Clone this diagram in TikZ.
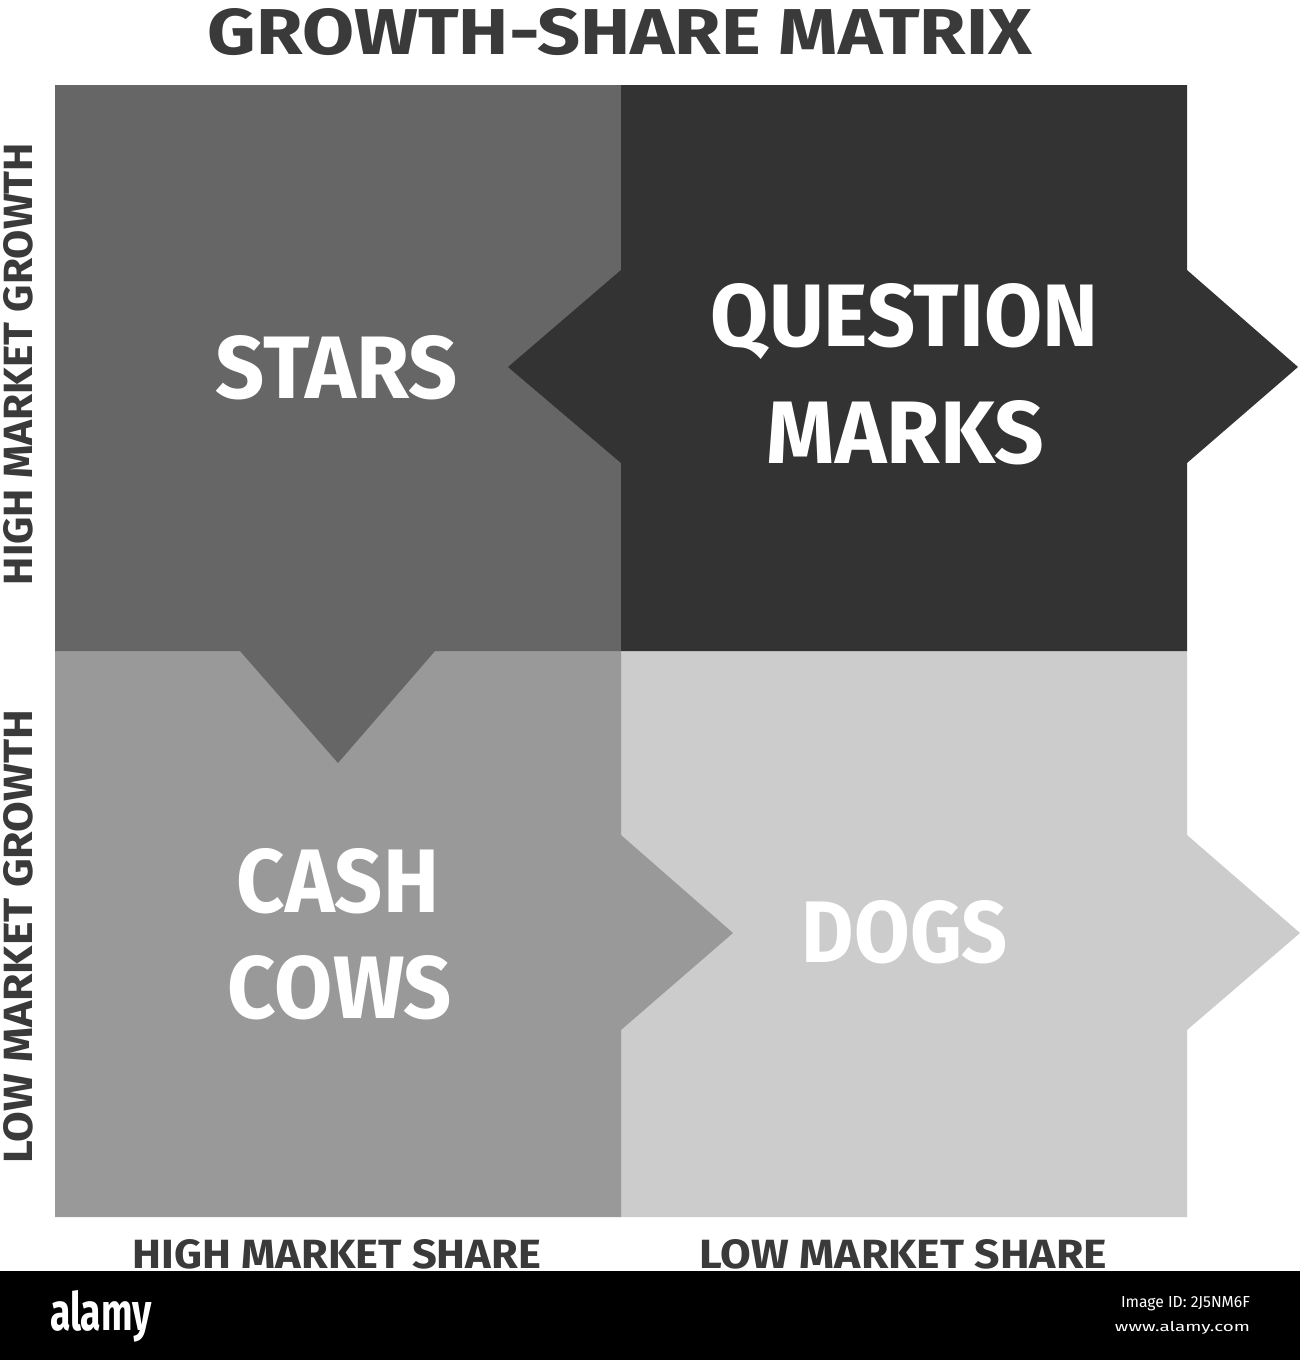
\documentclass[tikz,border=0pt]{standalone}
\usepackage{fontspec}
\setmainfont{Fira Sans}
\usepackage{graphicx}
\definecolor{titlegray}{HTML}{3A3A3A}
\definecolor{starsgray}{HTML}{666666}
\definecolor{qmgray}{HTML}{333333}
\definecolor{cowgray}{HTML}{999999}
\definecolor{doggray}{HTML}{CCCCCC}
\newcommand{\fitlabel}[3]{\resizebox{#1pt}{#2pt}{\bfseries #3}}
\begin{document}
\begin{tikzpicture}[x=1pt,y=-1pt,
  lbl/.style={inner sep=0pt, outer sep=0pt, anchor=base},
  darklbl/.style={lbl, text=titlegray},
  whitelbl/.style={lbl, text=white},
  quad/.style={draw=none}]
\useasboundingbox (0,0) rectangle (1300,1360);
\fill[color=white] (0,0) rectangle (1300,1360);
% quadrants
\fill[quad, doggray] (621,651) -- (1187,651) -- (1187,835) -- (1300,933) -- (1187,1030) -- (1187,1217) -- (621,1217) -- cycle;
\fill[quad, cowgray] (55,651) -- (621,651) -- (621,835) -- (733,933) -- (621,1030) -- (621,1217) -- (55,1217) -- cycle;
\fill[quad, starsgray] (55,85) -- (621,85) -- (621,651) -- (435,651) -- (338,763) -- (240,651) -- (55,651) -- cycle;
\fill[quad, qmgray] (621,85) -- (1187,85) -- (1187,270) -- (1298,367) -- (1187,463) -- (1187,651) -- (621,651) -- (621,463) -- (508,367) -- (621,270) -- cycle;
% title
\node[darklbl] (title) at (620,54) {\fitlabel{824}{46}{GROWTH-SHARE MATRIX}};
% quadrant labels
\node[whitelbl] (stars) at (337,398) {\fitlabel{242}{63}{STARS}};
\node[whitelbl] (question) at (904.5,346) {\fitlabel{387}{63}{QUESTION}};
\node[whitelbl] (marks) at (905.5,463) {\fitlabel{277}{63}{MARKS}};
\node[whitelbl] (cash) at (338,912) {\fitlabel{202}{64}{CASH}};
\node[whitelbl] (cows) at (340,1018) {\fitlabel{224}{63}{COWS}};
\node[whitelbl] (dogs) at (905,962) {\fitlabel{206}{62}{DOGS}};
% axis labels
\node[darklbl, rotate=90] (highgrowth) at (32,364) {\fitlabel{442}{29}{HIGH MARKET GROWTH}};
\node[darklbl, rotate=90] (lowgrowth) at (32,936.5) {\fitlabel{453}{29}{LOW MARKET GROWTH}};
\node[darklbl] (highshare) at (337,1268) {\fitlabel{408}{29}{HIGH MARKET SHARE}};
\node[darklbl] (lowshare) at (903.5,1268) {\fitlabel{407}{29}{LOW MARKET SHARE}};
% bottom bar
\fill[color=black] (0,1271) rectangle (1300,1360);
\node[whitelbl, anchor=base west] (logo) at (50,1330) {\fitlabel{102}{40}{alamy}};
\node[whitelbl, anchor=base east] (imgid) at (1250,1307) {\resizebox{129pt}{11pt}{Image ID: 2J5NM6F}};
\node[whitelbl, anchor=base east] (www) at (1250,1331) {\resizebox{135pt}{10pt}{www.alamy.com}};
\end{tikzpicture}
\end{document}
